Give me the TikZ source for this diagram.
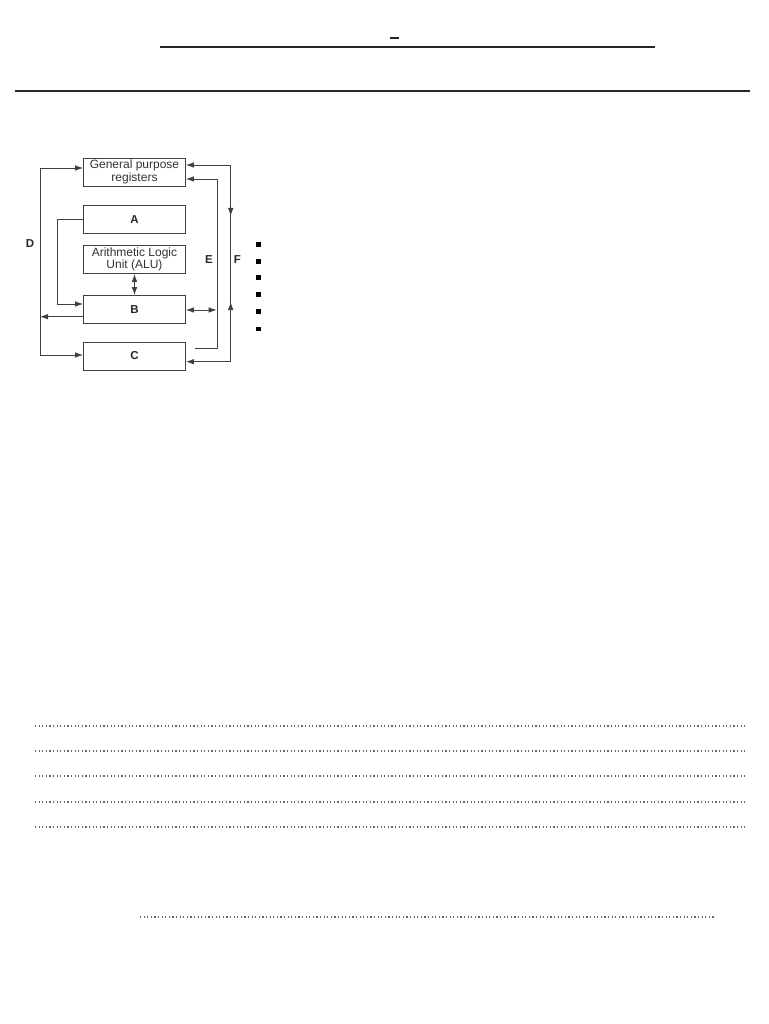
\documentclass[tikz,border=0pt]{standalone}
\usepackage{fontspec}
\setmainfont{Liberation Sans}
\usetikzlibrary{arrows.meta}
\begin{document}
\begin{tikzpicture}[x=1pt,y=-1pt,
 box/.style={draw=black!75, line width=0.8pt, minimum width=102pt, minimum height=28pt, inner sep=0pt, align=center, font=\fontsize{12}{12.5}\selectfont, text=black!80},
 bbox/.style={box, font=\bfseries\fontsize{11.5}{12}\selectfont, text=black!85},
 conn/.style={draw=black!75, line width=0.8pt},
 tip/.style={-{Latex[length=8pt,width=5.5pt]}},
 dtip/.style={{Latex[length=8pt,width=5.5pt]}-{Latex[length=8pt,width=5.5pt]}},
 lab/.style={font=\bfseries\fontsize{11.5}{13}\selectfont, inner sep=0pt, text=black!85},
 rulel/.style={line width=2pt, black!85},
 dotrow/.style={line width=1.2pt, black!60, dash pattern=on 1.2pt off 2.4pt},
 sq/.style={fill=black, minimum size=4.5pt, inner sep=0pt}]
\useasboundingbox (0,0) rectangle (768,1024);
% header rules
\coordinate (r1a) at (160,47); \coordinate (r1b) at (655,47);
\draw[rulel] (r1a) -- (r1b);
\coordinate (dsa) at (390,38); \coordinate (dsb) at (399,38);
\draw[line width=1.3pt, black!85] (dsa) -- (dsb);
\coordinate (r2a) at (15,91); \coordinate (r2b) at (750,91);
\draw[rulel] (r2a) -- (r2b);
% boxes
\node[box] (gpr) at (134.5,172) {General purpose\\registers};
\node[bbox] (a) at (134.5,219.5) {A};
\node[box] (alu) at (134.5,259.5) {Arithmetic Logic\\Unit (ALU)};
\node[bbox] (b) at (134.5,309.5) {B};
\node[bbox] (c) at (134.5,356) {C};
% D path
\coordinate (dtop) at (40,168);
\coordinate (dbot) at (40,355);
\coordinate (dmid) at (40,316.7);
\draw[conn] (dtop) -- (dbot);
\draw[conn,tip] (dtop) -- (dtop -| gpr.west);
\draw[conn,tip] (dbot) -- (dbot -| c.west);
\draw[conn,tip] (dmid -| b.west) -- (dmid);
% A to B
\coordinate (aa) at (57.7,219.5);
\coordinate (ab) at (57.7,304);
\draw[conn,tip] (a.west) -- (aa) -- (ab) -- (ab -| b.west);
% ALU - B
\draw[conn,dtip] (alu.south) -- (b.north);
% E path
\coordinate (es) at (195,348.3);
\coordinate (ec) at (217.7,348.3);
\coordinate (et) at (217.7,179);
\draw[conn,tip] (es) -- (ec) -- (et) -- (et -| gpr.east);
\coordinate (be) at (216.7,310);
\draw[conn,dtip] (be -| b.east) -- (be);
% F path
\coordinate (ft) at (230.7,165);
\coordinate (fb) at (230.7,361.7);
\coordinate (fd1) at (230.7,190);
\coordinate (fd2) at (230.7,216);
\coordinate (fu1) at (230.7,330);
\coordinate (fu2) at (230.7,302);
\draw[conn] (ft) -- (fb);
\draw[conn,tip] (ft) -- (ft -| gpr.east);
\draw[conn,tip] (fb) -- (fb -| c.east);
\draw[conn,tip] (fd1) -- (fd2);
\draw[conn,tip] (fu1) -- (fu2);
% labels
\node[lab] (ld) at (30,243.3) {D};
\node[lab] (le) at (209,260) {E};
\node[lab] (lf) at (237.3,260) {F};
% bullets
\node[sq] (s1) at (258.7,244.3) {};
\node[sq] (s2) at (258.7,261.7) {};
\node[sq] (s3) at (258.7,277.7) {};
\node[sq] (s4) at (258.7,294.3) {};
\node[sq] (s5) at (258.7,311.7) {};
\node[sq] (s6) at (258.7,329) {};
% dotted answer lines
\foreach \yy in {726,751,776,802,827} {
  \draw[dotrow] (35,\yy) -- (745,\yy);
}
\draw[dotrow] (140,917) -- (715,917);
\end{tikzpicture}
\end{document}
